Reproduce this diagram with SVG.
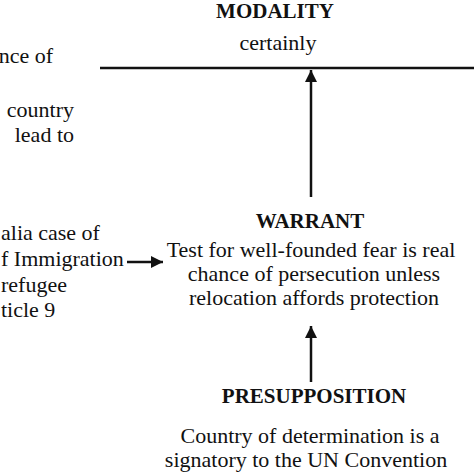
<svg xmlns="http://www.w3.org/2000/svg" width="474" height="474" viewBox="0 0 474 474">
<defs>
<style>
text{font-family:"Liberation Serif","Times New Roman",serif;fill:#111;}
.t{font-size:22px;}
.h{font-size:21px;font-weight:bold;}
.c{text-anchor:middle;}
.e{text-anchor:end;}
.ln{stroke:#111;stroke-width:2.5;fill:none;}
</style>
<marker id="ah" viewBox="0 0 12 12" refX="12" refY="6" markerWidth="12" markerHeight="12" markerUnits="userSpaceOnUse" orient="auto">
<path d="M0,0 L12,6 L0,12 Z" fill="#111"/>
</marker>
</defs>
<rect width="474" height="474" fill="#fff"/>
<g id="connectors">
<line class="ln" x1="100" y1="68" x2="474" y2="68"/>
<line class="ln" x1="311" y1="197" x2="311" y2="70" marker-end="url(#ah)"/>
<line class="ln" x1="311" y1="382" x2="311" y2="326" marker-end="url(#ah)"/>
<line class="ln" x1="127" y1="262" x2="163" y2="262" marker-end="url(#ah)"/>
</g>
<g id="modality">
<text class="h c" x="275" y="18">MODALITY</text>
<text class="t c" x="278" y="50">certainly</text>
</g>
<g id="data-top">
<text class="t e" x="53" y="63">nce of</text>
<text class="t e" x="74" y="117">country</text>
<text class="t e" x="74" y="142">lead to</text>
</g>
<g id="backing">
<text class="t" x="1" y="240">alia case of</text>
<text class="t" x="1" y="266">f Immigration</text>
<text class="t" x="1" y="292">refugee</text>
<text class="t" x="1" y="317">ticle 9</text>
</g>
<g id="warrant">
<text class="h c" x="310" y="228">WARRANT</text>
<text class="t c" x="311" y="257">Test for well-founded fear is real</text>
<text class="t c" x="314" y="281">chance of persecution unless</text>
<text class="t c" x="314" y="305">relocation affords protection</text>
</g>
<g id="presupposition">
<text class="h c" x="314" y="403">PRESUPPOSITION</text>
<text class="t c" x="310" y="443">Country of determination is a</text>
<text class="t c" x="306" y="467">signatory to the UN Convention</text>
</g>
</svg>
